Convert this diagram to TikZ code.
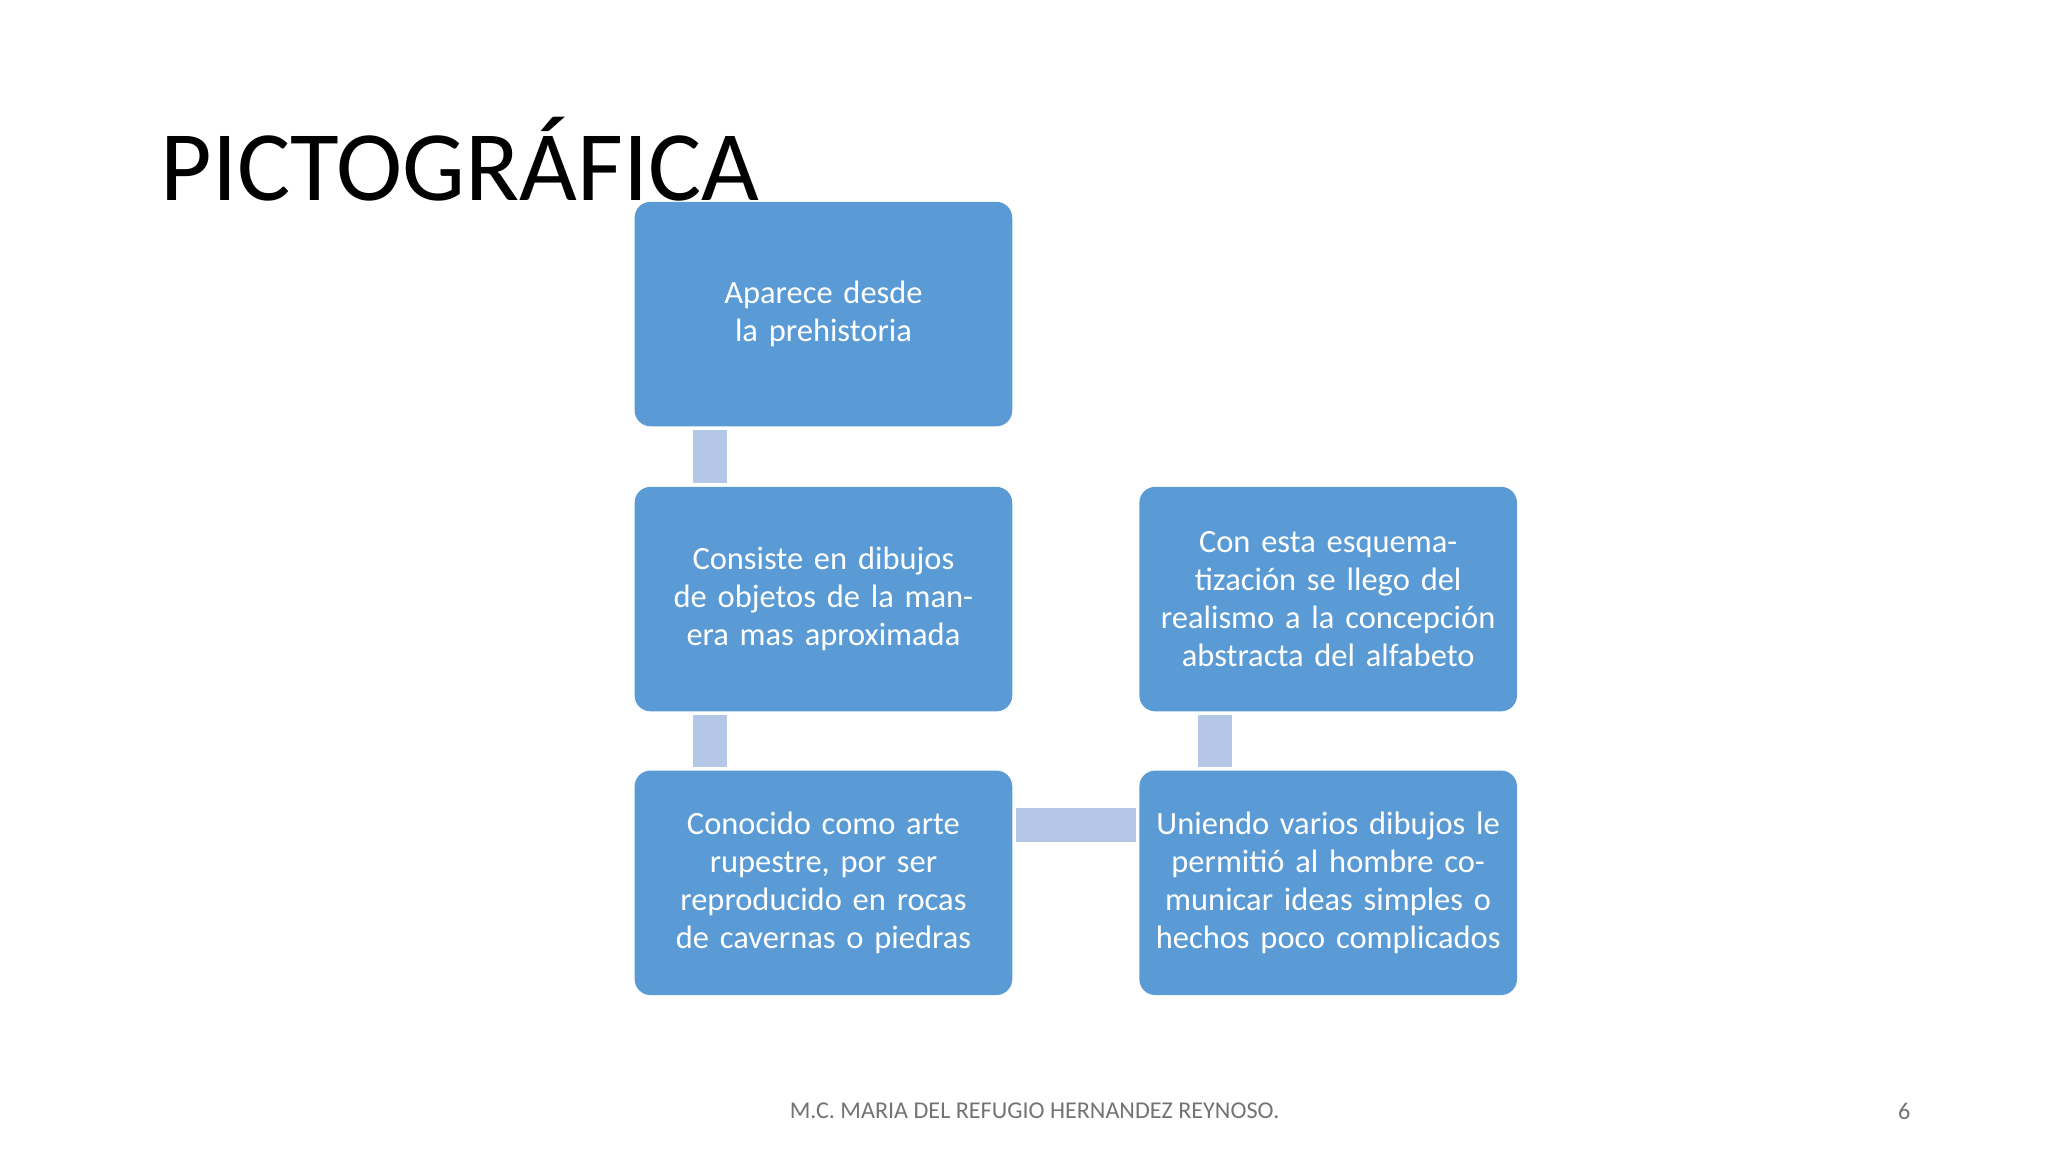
\documentclass[tikz,border=0pt]{standalone}
\usepackage{fontspec}
\setmainfont{Carlito}
\definecolor{boxblue}{HTML}{5B9BD5}
\definecolor{connblue}{HTML}{B4C7E7}
\begin{document}
\begin{tikzpicture}[x=0.01cm,y=-0.01cm,
  box/.style={fill=boxblue,rounded corners=0.12cm,minimum width=2.86cm,minimum height=1.7cm,text width=2.7cm,align=center,text=white,font=\fontsize{7}{8.2}\selectfont,inner sep=0pt},
  conn/.style={draw=connblue,line width=0.26cm}]
\useasboundingbox (0,0) rectangle (1552,873);
\node[anchor=base west,font=\fontsize{21.5}{24}\selectfont,inner sep=0pt] (title) at (121,152) {PICTOGRÁFICA};
\node[box] (b1) at (624,238) {Aparece desde la prehistoria};
\node[box] (b2) at (624,454) {Consiste en dibujos de objetos de la manera mas aproximada};
\node[box] (b3) at (624,669) {Conocido como arte rupestre, por ser reproducido en rocas de cavernas o piedras};
\node[box] (b4) at (1006.5,669) {Uniendo varios dibujos le permitió al hombre comunicar ideas simples o hechos poco complicados};
\node[box] (b5) at (1006.5,454) {Con esta esquematización se llego del realismo a la concepción abstracta del alfabeto};
\draw[conn] ([xshift=-0.86cm,yshift=-0.02cm]b1.south) -- ([xshift=-0.86cm,yshift=0.02cm]b2.north);
\draw[conn] ([xshift=-0.86cm,yshift=-0.02cm]b2.south) -- ([xshift=-0.86cm,yshift=0.02cm]b3.north);
\draw[conn] ([xshift=0.02cm,yshift=0.44cm]b3.east) -- ([xshift=-0.02cm,yshift=0.44cm]b4.west);
\draw[conn] ([xshift=-0.855cm,yshift=0.02cm]b4.north) -- ([xshift=-0.855cm,yshift=-0.02cm]b5.south);
\node[text=black!55,font=\fontsize{5.2}{6}\selectfont] (foot) at (784,842) {M.C. MARIA DEL REFUGIO HERNANDEZ REYNOSO.};
\node[text=black!55,font=\fontsize{5.2}{6}\selectfont] (num) at (1443,842) {6};
\end{tikzpicture}
\end{document}
